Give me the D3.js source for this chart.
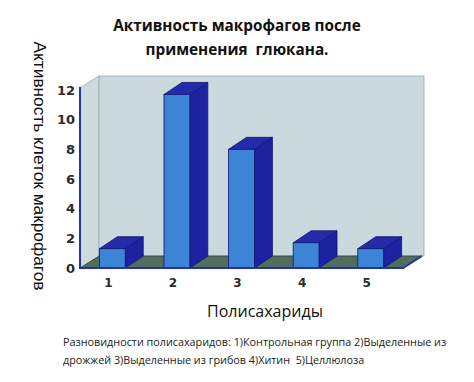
<!DOCTYPE html>
<html>
<head>
<meta charset="utf-8">
<script src="https://cdn.jsdelivr.net/npm/d3@7"></script>
<style>
  body { margin: 0; background: #fff; }
  svg { display: block; }
  text { white-space: pre; }
</style>
</head>
<body>
<script>
"use strict";
// Data
const categories = ["1", "2", "3", "4", "5"]
const values = [1.3, 11.7, 8.0, 1.7, 1.3]
const yTicks = [0, 2, 4, 6, 8, 10, 12]
const titleLines = ["Активность макрофагов после", "применения  глюкана."]
const noteLines = [
    "Разновидности полисахаридов: 1)Контрольная группа 2)Выделенные из",
    "дрожжей 3)Выделенные из грибов 4)Хитин  5)Целлюлоза"
]

const size = { width: 474, height: 382 }
const plot = { left: 80, right: 403, top: 88, bottom: 268 }
const wallDepth = { dx: 19, dy: -12 }
const barDepth = { dx: 18, dy: -12 }

const svg = d3.select("body").append("svg")
    .attr("width", size.width)
    .attr("height", size.height)

const x = d3.scaleBand()
    .domain(categories)
    .range([plot.left, plot.right])
    .paddingInner(0.6)
    .paddingOuter(0.3)

const y = d3.scaleLinear()
    .domain([0, 12])
    .range([plot.bottom, 90])

const pts = (arr) => arr.map(p => p.join(",")).join(" ")

// Walls
const wd = wallDepth
svg.append("polygon")
    .attr("points", pts([[plot.left, plot.top], [plot.left + wd.dx, plot.top + wd.dy],
        [plot.left + wd.dx, plot.bottom + wd.dy], [plot.left, plot.bottom]]))
    .attr("fill", "#cddbdf")
    .attr("stroke", "#9aa6aa")
    .attr("stroke-width", 0.8)

svg.append("rect")
    .attr("x", plot.left + wd.dx)
    .attr("y", plot.top + wd.dy)
    .attr("width", plot.right - plot.left + 2)
    .attr("height", plot.bottom - plot.top)
    .attr("fill", "#c9d9dd")
    .attr("stroke", "#9aa6aa")
    .attr("stroke-width", 0.8)

// Floor
svg.append("polygon")
    .attr("points", pts([[plot.left, plot.bottom], [plot.left + wd.dx, plot.bottom + wd.dy],
        [plot.right + wd.dx, plot.bottom + wd.dy], [plot.right, plot.bottom]]))
    .attr("fill", "#4f6e5e")
    .attr("stroke", "#33473d")
    .attr("stroke-width", 0.8)

// Bars
const bd = barDepth
const bars = svg.selectAll(".bar")
    .data(values)
    .enter()
    .append("g")
    .attr("class", "bar")

bars.append("polygon")
    .attr("points", (d, i) => {
        const x0 = x(categories[i]), x1 = x0 + x.bandwidth(), yt = y(d), yb = y(0)
        return pts([[x1, yt], [x1 + bd.dx, yt + bd.dy], [x1 + bd.dx, yb + bd.dy], [x1, yb]])
    })
    .attr("fill", "#1d22a0")
    .attr("stroke", "#11146e")
    .attr("stroke-width", 0.8)

bars.append("polygon")
    .attr("points", (d, i) => {
        const x0 = x(categories[i]), x1 = x0 + x.bandwidth(), yt = y(d)
        return pts([[x0, yt], [x0 + bd.dx, yt + bd.dy], [x1 + bd.dx, yt + bd.dy], [x1, yt]])
    })
    .attr("fill", "#242bab")
    .attr("stroke", "#11146e")
    .attr("stroke-width", 0.8)

bars.append("rect")
    .attr("x", (d, i) => x(categories[i]))
    .attr("y", d => y(d))
    .attr("width", x.bandwidth())
    .attr("height", d => y(0) - y(d))
    .attr("fill", "#3b84d6")
    .attr("stroke", "#11146e")
    .attr("stroke-width", 0.8)

// Axis lines (blue)
svg.append("polyline")
    .attr("points", pts([[plot.left, plot.top - 1], [plot.left, plot.bottom], [plot.right, plot.bottom],
        [plot.right + wd.dx, plot.bottom + wd.dy]]))
    .attr("fill", "none")
    .attr("stroke", "#2a30a8")
    .attr("stroke-width", 2)

// Y axis labels
const yAxis = d3.axisLeft(y).tickValues(yTicks).tickSize(0).tickPadding(5)
const gy = svg.append("g")
    .attr("transform", "translate(" + plot.left + ",0)")
    .call(yAxis)
gy.select(".domain").remove()
gy.selectAll("text")
    .style("font-family", "'DejaVu Sans', sans-serif")
    .style("font-size", "13px")
    .style("font-weight", "bold")
    .attr("fill", "#2a2a2a")

// X axis labels
const xAxis = d3.axisBottom(x).tickSize(0).tickPadding(10)
const gx = svg.append("g")
    .attr("transform", "translate(-4," + plot.bottom + ")")
    .call(xAxis)
gx.select(".domain").remove()
gx.selectAll("text")
    .style("font-family", "'DejaVu Sans', sans-serif")
    .style("font-size", "12px")
    .style("font-weight", "bold")
    .attr("fill", "#2a2a2a")

// Title
svg.selectAll(".title")
    .data(titleLines)
    .enter()
    .append("text")
    .attr("class", "title")
    .attr("x", 237)
    .attr("y", (d, i) => 31 + i * 24)
    .attr("text-anchor", "middle")
    .style("font-family", "'Open Sans', sans-serif")
    .style("font-size", "15.3px")
    .style("font-weight", "bold")
    .attr("fill", "#111")
    .text(d => d)

// Y axis title
svg.append("text")
    .attr("transform", "translate(34,166)rotate(90)")
    .attr("text-anchor", "middle")
    .style("font-family", "'Liberation Sans', Arial, sans-serif")
    .style("font-size", "17.3px")
    .attr("fill", "#111")
    .text("Активность клеток макрофагов")

// X axis title
svg.append("text")
    .attr("x", 265)
    .attr("y", 317)
    .attr("text-anchor", "middle")
    .style("font-family", "'Open Sans', sans-serif")
    .style("font-size", "16px")
    .attr("fill", "#111")
    .text("Полисахариды")

// Footnote
svg.selectAll(".note")
    .data(noteLines)
    .enter()
    .append("text")
    .attr("class", "note")
    .attr("x", 63)
    .attr("y", (d, i) => 346 + i * 18)
    .style("font-family", "'Open Sans', sans-serif")
    .style("font-size", "10.8px")
    .attr("fill", "#222")
    .text(d => d)
</script>
</body>
</html>
